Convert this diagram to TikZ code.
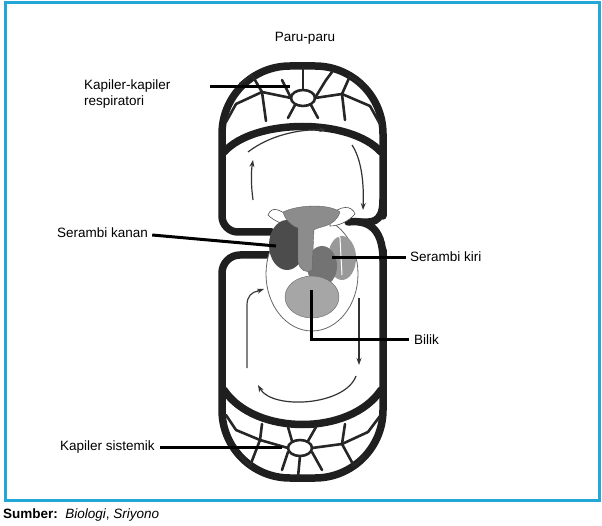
\documentclass[tikz,border=0pt]{standalone}
\usepackage{fontspec}
\setmainfont{Liberation Sans}
\usetikzlibrary{arrows.meta}
\definecolor{frameblue}{HTML}{22A7D6}
\begin{document}
\begin{tikzpicture}[x=1pt,y=-1pt,
  lbl/.style={font=\fontsize{13.5}{16}\selectfont,inner sep=0pt},
  lead/.style={line width=3pt},
  vessel/.style={line width=7.5pt,line cap=round,line join=round,color=black!88},
  capline/.style={line width=2.6pt,color=black!85,line cap=round},
  flow/.style={line width=1.2pt,color=black!80,-{Stealth[length=7pt,width=5pt]}},
  thin/.style={line width=1.2pt,color=black!75}]
\useasboundingbox (0,0) rectangle (602,526);
\draw[frameblue,line width=3pt] (5,3) rectangle (599,500);
% upper loop
\draw[vessel,rounded corners=16pt] (272,232) -- (222,232) [rounded corners=68pt] -- (222,66) -- (383,66) -- (383,232) [rounded corners=0pt] -- (383,216);
\draw[vessel] (383,200) .. controls (383,225) and (370,222) .. (360,222);
\draw[vessel] (224,152) .. controls (255,118) and (350,118) .. (381,152);
% lower loop
\draw[vessel,rounded corners=18pt] (272,255) -- (222,255) [rounded corners=68pt] -- (222,478) -- (383,478) -- (383,250);
\draw[vessel] (383,260) .. controls (383,225) and (365,220) .. (348,222);
\draw[vessel] (224,390) .. controls (255,436) and (350,436) .. (381,390);
% capillaries top (central ring around 303,98)
\draw[capline] (303,98) ellipse (12 and 8);
\foreach \ax/\ay/\bx/\by in {
  291/98/262/92, 262/92/236/104, 262/92/252/75, 262/92/266/121,
  291/98/282/80, 303/90/303/68, 315/98/326/80, 326/80/332/72,
  315/98/342/94, 342/94/370/106, 342/94/350/76, 342/94/345/120,
  236/104/226/122, 370/106/380/124, 295/105/288/118, 311/105/318/118,
  252/75/240/84, 350/76/362/84}
  \draw[capline] (\ax,\ay) -- (\bx,\by);
% capillaries bottom (central ring around 300,448)
\draw[capline] (300,448) ellipse (12 and 8);
\foreach \ax/\ay/\bx/\by in {
  288/448/260/440, 260/440/236/430, 260/440/250/466, 260/440/262/424,
  288/452/282/470, 300/456/298/477, 312/452/322/470, 312/448/342/444,
  342/444/368/432, 342/444/354/466, 342/444/345/424, 236/430/226/415,
  368/432/380/416, 292/441/288/427, 308/441/316/427, 250/466/240/456, 354/466/364/456}
  \draw[capline] (\ax,\ay) -- (\bx,\by);
% flow arrows
\draw[flow] (248,152) .. controls (270,135) and (300,129) .. (326,130);
\draw[flow] (352,145) .. controls (362,160) and (364,185) .. (363,210);
\draw[flow] (253,200) .. controls (251,185) and (251,172) .. (253,160);
\draw[thin] (247,368) -- (247,305) .. controls (247,296) and (252,292) .. (258,291);
\draw[flow] (257,291.3) -- (264,289);
\draw[flow] (359,298) -- (359,365);
\draw[flow] (356,376) .. controls (345,406) and (272,410) .. (258,385);
% heart
\draw[black!60,line width=0.8pt,fill=white] (312,274) ellipse (46 and 57);
\fill[white,draw=black!70,line width=0.6pt] (292,218) .. controls (280,210) and (272,205) .. (268,215) .. controls (275,222) and (285,225) .. (292,226) -- cycle;
\fill[white,draw=black!70,line width=0.6pt] (330,216) .. controls (340,205) and (352,205) .. (355,214) .. controls (348,222) and (338,226) .. (330,226) -- cycle;
\fill[black!70] (287,245) ellipse (18 and 25);
\fill[black!40] (342,258) ellipse (14 and 22);
\fill[black!55] (322,266) ellipse (15 and 20);
\fill[black!35,draw=black!60] (312,297) ellipse (27 and 21);
\fill[black!45,draw=black!60] (283,212) .. controls (300,204) and (330,204) .. (340,212) .. controls (335,228) and (318,226) .. (314,230) -- (312,270) .. controls (306,274) and (300,270) .. (298,262) -- (298,228) .. controls (292,226) and (285,220) .. (283,212) -- cycle;
\draw[white,line width=1pt] (320,240) .. controls (325,230) and (335,230) .. (340,238) -- (342,275);
% labels
\node[lbl] (paru) at (305,38) {Paru-paru};
\node[lbl,align=left,anchor=west] (kr) at (84,94) {Kapiler-kapiler\\respiratori};
\coordinate (krE) at (290,87);
\draw[lead] (210,87) -- (krE);
\node[lbl,anchor=west] (sk) at (57,233) {Serambi kanan};
\coordinate (skE) at (276,246);
\draw[lead] (sk.east) ++(4,2) -- (skE);
\node[lbl,anchor=west] (ski) at (410,257) {Serambi kiri};
\coordinate (skiE) at (332,258);
\draw[lead] (ski.west) ++(-4,1) -- (skiE);
\node[lbl,anchor=west] (bl) at (414,340) {Bilik};
\coordinate (blE) at (311,290);
\draw[lead] (bl.west) ++(-5,0) -| (blE);
\node[lbl,anchor=west] (ks) at (60,447) {Kapiler sistemik};
\coordinate (ksE) at (282,447);
\draw[lead] (ks.east) ++(5,0) -- (ksE);
\node[lbl,anchor=west] (src) at (3,515) {\textbf{Sumber:}\ \ \textit{Biologi}, \textit{Sriyono}};
\end{tikzpicture}
\end{document}
